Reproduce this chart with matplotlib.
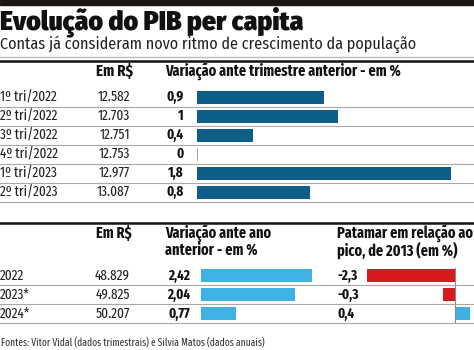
import matplotlib
matplotlib.use("Agg")
import matplotlib.pyplot as plt
from matplotlib.lines import Line2D
from matplotlib.patches import Rectangle

# --- dados ---
trimestres = ["1º tri/2022", "2º tri/2022", "3º tri/2022", "4º tri/2022", "1º tri/2023", "2º tri/2023"]
pib_tri = ["12.582", "12.703", "12.751", "12.753", "12.977", "13.087"]
var_tri = [0.9, 1.0, 0.4, 0.0, 1.8, 0.8]
var_tri_txt = ["0,9", "1", "0,4", "0", "1,8", "0,8"]

anos = ["2022", "2023*", "2024*"]
pib_ano = ["48.829", "49.825", "50.207"]
var_ano = [2.42, 2.04, 0.77]
var_ano_txt = ["2,42", "2,04", "0,77"]
pico = [-2.3, -0.3, 0.4]
pico_txt = ["-2,3", "-0,3", "0,4"]

AZUL = "#0d5f88"
AZUL_CLARO = "#3fb1e3"
VERMELHO = "#d71920"
CINZA = "#a8a8a8"

W, H = 474, 350
CORPO = ["Fira Sans Extra Condensed", "DejaVu Sans"]
COND = ["Fira Sans Condensed", "DejaVu Sans"]
plt.rcParams["font.family"] = CORPO

fig = plt.figure(figsize=(W / 100, H / 100), dpi=100)
renderer = fig.canvas.get_renderer()


def fx(x):
    return x / W


def fy(y):
    return 1 - y / H


def texto(x, y, s, largura=None, **kw):
    t = fig.text(fx(x), fy(y), s, va="center", **kw)
    if largura:
        # ajusta o tamanho da fonte para ocupar a largura vista na referência
        w = t.get_window_extent(renderer).width
        t.set_fontsize(t.get_fontsize() * largura / w)
    return t


def linha(y, cor=CINZA, lw=0.8, x0=0, x1=W):
    fig.add_artist(Line2D([fx(x0), fx(x1)], [fy(y), fy(y)], color=cor, lw=lw,
                          transform=fig.transFigure))


def eixo(x0, x1, y0, y1):
    ax = fig.add_axes([fx(x0), fy(y1), fx(x1) - fx(x0), fy(y0) - fy(y1)])
    ax.set_axis_off()
    return ax


# faixa escura no topo
fig.add_artist(Rectangle((0, fy(4.5)), 1, 1 - fy(4.5), color="#1c1714",
                         transform=fig.transFigure))

texto(0, 21.5, "Evolução do PIB per capita", largura=305, fontsize=18,
      fontweight="black", color="#111", family=COND)
texto(0, 44, "Contas já consideram novo ritmo de crescimento da população",
      largura=420, fontsize=12, color="#222", family=COND)
linha(57, cor="#bbbbbb", lw=1)
linha(60.5, cor="#111", lw=1.8)

NEG = dict(fontsize=9.8, fontweight="bold", color="#111")
# --- bloco trimestral ---
texto(96, 71, "Em R$", largura=37, **NEG)
hdr = texto(165, 71, "Variação ante trimestre anterior - em %", largura=236, **NEG)
NEG["fontsize"] = hdr.get_fontsize()

topo1 = 87.7
passo = 19
ax1 = eixo(196.7, W, topo1, topo1 + passo * len(trimestres))
ax1.set_ylim(len(trimestres) - 0.5, -0.5)
ax1.set_xlim(0, (W - 196.7) / 141.5)
for i, v in enumerate(var_tri):
    if v == 0:
        ax1.bar(0, 0.7, width=0.012, bottom=i - 0.35, color=CINZA, align="edge")
ax1.barh(range(len(trimestres)), var_tri, height=0.67, color=AZUL)

t0 = texto(0, 0, trimestres[0], largura=57, fontsize=10)
fs_corpo = t0.get_fontsize()
t0.remove()

for i, (t, p, v) in enumerate(zip(trimestres, pib_tri, var_tri_txt)):
    yc = topo1 + passo * (i + 0.5)
    texto(0, yc, t, fontsize=fs_corpo, color="#222")
    texto(130, yc, p, fontsize=fs_corpo, color="#222", ha="right")
    texto(183.5, yc, v, fontsize=fs_corpo, fontweight="bold", color="#111", ha="right")
    linha(topo1 + passo * (i + 1))

# --- bloco anual ---
linha(222.7, cor="#111", lw=1.8)
texto(96, 233, "Em R$", **NEG)
texto(165, 233, "Variação ante ano", **NEG)
texto(165, 250, "anterior - em %", **NEG)
texto(337, 233, "Patamar em relação ao", **NEG)
texto(337, 250, "pico, de 2013 (em %)", **NEG)

topo2 = 266.3
ax2 = eixo(200.7, 330, topo2, topo2 + passo * len(anos))
ax2.set_ylim(len(anos) - 0.5, -0.5)
ax2.set_xlim(0, (330 - 200.7) / 46.1)
ax2.barh(range(len(anos)), var_ano, height=0.68, color=AZUL_CLARO)

zero = 454.7
esc = 38.2
ax3 = eixo(330, W, topo2, topo2 + passo * len(anos))
ax3.set_ylim(len(anos) - 0.5, -0.5)
ax3.set_xlim((330 - zero) / esc, (W - zero) / esc)
ax3.barh(range(len(anos)), pico, height=0.68,
         color=[VERMELHO if v < 0 else AZUL_CLARO for v in pico])
ax3.axvline(0, ymin=0, ymax=0.97, color="#888", lw=0.8)

for i, (a, p, v, q) in enumerate(zip(anos, pib_ano, var_ano_txt, pico_txt)):
    yc = topo2 + passo * (i + 0.5)
    texto(0, yc, a, fontsize=fs_corpo, color="#222")
    texto(130, yc, p, fontsize=fs_corpo, color="#222", ha="right")
    texto(190, yc, v, fontsize=fs_corpo, fontweight="bold", color="#111", ha="right")
    texto(337, yc, q, fontsize=fs_corpo, fontweight="bold", color="#111")
    linha(topo2 + passo * (i + 1))

texto(1, 343, "Fontes: Vitor Vidal (dados trimestrais) e Silvia Matos (dados anuais)",
      largura=264, fontsize=8, color="#333")

fig.savefig("out.png", dpi=100)
